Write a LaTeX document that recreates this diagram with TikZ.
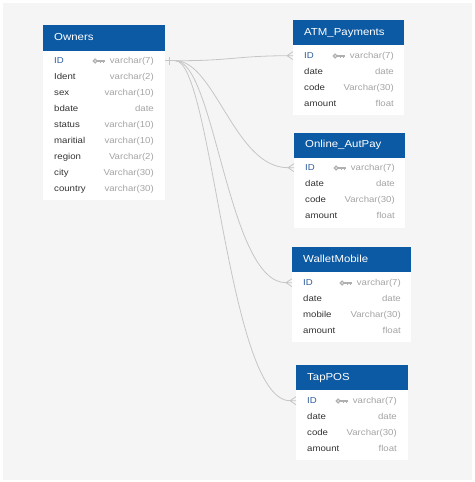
\documentclass[tikz,border=0pt]{standalone}
\usepackage{fontspec}
\setmainfont{Liberation Sans}[FakeStretch=1.12]
\definecolor{hdblue}{HTML}{0D5AA4}
\definecolor{idblue}{HTML}{2E5E9E}
\definecolor{fldgray}{HTML}{333333}
\definecolor{typgray}{HTML}{A4A4A4}
\definecolor{panel}{HTML}{F5F5F5}
\definecolor{relgray}{HTML}{C6C6C6}
\definecolor{keygray}{HTML}{B0B0B0}
\tikzset{
  tbody/.style={fill=white, draw=none, inner sep=0pt, anchor=north west},
  thead/.style={fill=hdblue, draw=none, inner sep=0pt, anchor=north west},
  htext/.style={text=white, font=\fontsize{10.2}{12}\selectfont, inner sep=0pt, anchor=mid west},
  fname/.style={text=fldgray, font=\fontsize{8.6}{10}\selectfont, inner sep=0pt, anchor=mid west},
  idname/.style={fname, text=idblue},
  ftype/.style={text=typgray, font=\fontsize{8.6}{10}\selectfont, inner sep=0pt, anchor=mid east},
  rel/.style={draw=relgray, line width=0.8pt},
  keyline/.style={draw=keygray, line width=1.2pt},
}
\newcommand\ERtable[7]{% name, x, ytop, width, headheight, bodybottom, title
  \node[tbody, minimum width=#4pt, minimum height=#6pt-#3pt] (#1) at (#2,#3) {};
  \node[thead, minimum width=#4pt, minimum height=#5pt] (#1H) at (#2,#3) {};
}
\newcommand\ERrow[6]{% prefix, xl, xr, y, field, type
  \node[fname] (#1n) at (#2,#4) {#5};
  \node[ftype] (#1t) at (#3,#4) {#6};
}
\newcommand\ERidrow[4]{% prefix, xl, xr, y
  \node[idname] (#1n) at (#2,#4) {ID};
  \node[ftype] (#1t) at (#3,#4) {varchar(7)};
  \draw[keyline] ([xshift=-14.6pt]#1t.west |- 0,#4) circle (1.9pt);
  \draw[keyline] ([xshift=-12.6pt]#1t.west |- 0,#4) -- ([xshift=-5pt]#1t.west |- 0,#4)
     ([xshift=-9pt]#1t.west |- 0,#4) -- ++(0,2.3)
     ([xshift=-6pt]#1t.west |- 0,#4) -- ++(0,2.3);
}
\begin{document}
\begin{tikzpicture}[x=1pt,y=-1pt]
\useasboundingbox (0,0) rectangle (474,482);
\fill[white] (0,0) rectangle (474,482);
\fill[panel] (2.5,2.5) rectangle (471.5,480);

% Owners
\ERtable{owners}{43}{25}{122}{25.7}{200}{Owners}
\node[htext] (ownersT) at (54,37.8) {Owners};
\ERidrow{oid}{54}{154}{61}
\ERrow{oident}{54}{154}{77}{Ident}{varchar(2)}
\ERrow{osex}{54}{154}{93}{sex}{varchar(10)}
\ERrow{obdate}{54}{154}{109}{bdate}{date}
\ERrow{ostatus}{54}{154}{125}{status}{varchar(10)}
\ERrow{omar}{54}{154}{141}{maritial}{varchar(10)}
\ERrow{oregion}{54}{154}{157}{region}{Varchar(2)}
\ERrow{ocity}{54}{154}{173}{city}{Varchar(30)}
\ERrow{ocountry}{54}{154}{189}{country}{varchar(30)}

% ATM_Payments
\ERtable{atm}{293}{20}{111}{25}{115}{ATM_Payments}
\node[htext] (atmT) at (304,32.5) {ATM\_Payments};
\ERidrow{aid}{304}{394}{56}
\ERrow{adate}{304}{394}{72}{date}{date}
\ERrow{acode}{304}{394}{88}{code}{Varchar(30)}
\ERrow{aamt}{304}{394}{104}{amount}{float}

% Online_AutPay
\ERtable{onl}{294}{133}{111}{24.5}{228}{Online_AutPay}
\node[htext] (onlT) at (305,145.2) {Online\_AutPay};
\ERidrow{nid}{305}{395}{168}
\ERrow{ndate}{305}{395}{184}{date}{date}
\ERrow{ncode}{305}{395}{200}{code}{Varchar(30)}
\ERrow{namt}{305}{395}{216}{amount}{float}

% WalletMobile
\ERtable{wal}{292}{247}{119}{25}{342}{WalletMobile}
\node[htext] (walT) at (303,259.5) {WalletMobile};
\ERidrow{wid}{303}{401}{283}
\ERrow{wdate}{303}{401}{299}{date}{date}
\ERrow{wmob}{303}{401}{315}{mobile}{Varchar(30)}
\ERrow{wamt}{303}{401}{331}{amount}{float}

% TapPOS
\ERtable{tap}{296}{365}{112}{25}{460}{TapPOS}
\node[htext] (tapT) at (307,377.5) {TapPOS};
\ERidrow{tid}{307}{397}{401}
\ERrow{tdate}{307}{397}{417}{date}{date}
\ERrow{tcode}{307}{397}{433}{code}{Varchar(30)}
\ERrow{tamt}{307}{397}{449}{amount}{float}

% connector coordinates
\coordinate (oEnd) at (owners.east |- oidn);
\coordinate (oOut) at ([xshift=10pt]owners.east |- oidn);
\coordinate (aEnd) at ([xshift=-6pt]atm.west |- aidn);
\coordinate (nEnd) at ([xshift=-6pt]onl.west |- nidn);
\coordinate (wEnd) at ([xshift=-6pt]wal.west |- widn);
\coordinate (tEnd) at ([xshift=-6pt]tap.west |- tidn);

% one mark
\draw[rel] (oEnd) -- (oOut);
\draw[rel] ([xshift=4pt]oEnd) ++(0,-4) -- ++(0,8);

% relations
\draw[rel] (oOut) .. controls (230,61) and (235,56) .. (aEnd);
\draw[rel] (oOut) .. controls (215,61) and (235,168) .. (nEnd);
\draw[rel] (oOut) .. controls (215,61) and (228,283) .. (wEnd);
\draw[rel] (oOut) .. controls (212,61) and (228,401) .. (tEnd);

% crow's feet
\foreach \e/\t in {aEnd/atm, nEnd/onl, wEnd/wal, tEnd/tap}{
  \draw[rel] (\e) -- (\t.west |- \e)
             (\e) -- ([yshift=-4pt]\t.west |- \e)
             (\e) -- ([yshift=4pt]\t.west |- \e);
}
\end{tikzpicture}
\end{document}
